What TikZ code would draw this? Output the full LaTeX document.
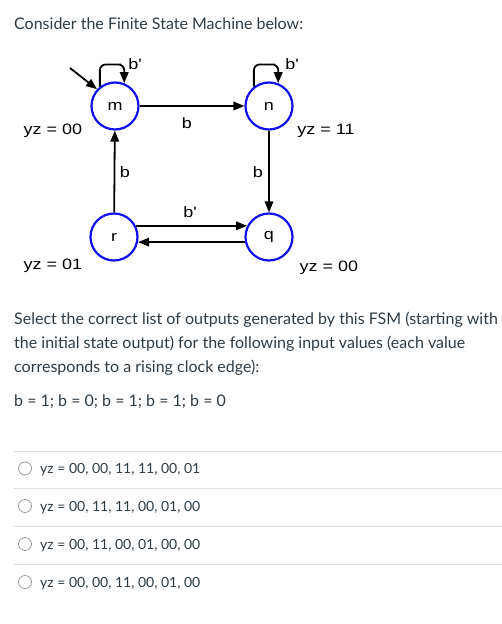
\documentclass[tikz,border=0pt]{standalone}
\usepackage{fontspec}
\setmainfont{Lato}
\newfontfamily\diagfont[FakeStretch=1.2]{Liberation Sans}
\usetikzlibrary{arrows.meta}
\definecolor{txt}{HTML}{2D3B45}
\definecolor{sep}{HTML}{DDDDDD}
\definecolor{stblue}{HTML}{1010F0}
\tikzset{
  state/.style={circle,draw=stblue,line width=2.2pt,minimum size=47pt,inner sep=0pt,font=\diagfont\fontsize{15}{16}\selectfont},
  lbl/.style={font=\diagfont\fontsize{15}{16}\selectfont,inner sep=0pt},
  edge/.style={line width=1.8pt,-{Triangle[length=11pt,width=8.5pt]}},
  body/.style={font=\fontsize{16}{18}\selectfont,text=txt,anchor=base west,inner sep=0pt},
  opt/.style={font=\fontsize{14}{16}\selectfont,text=txt,anchor=base west,inner sep=0pt},
  radio/.style={circle,draw=gray!80,line width=0.8pt,minimum size=13pt,inner sep=0pt},
  sepline/.style={draw=sep,line width=1pt}
}
\begin{document}
\begin{tikzpicture}[x=1pt,y=-1pt]
\useasboundingbox (0,0) rectangle (502,624);
% title
\node[body] (title) at (14,29) {Consider the Finite State Machine below:};
% states
\node[state] (m) at (115,106) {m};
\node[state] (n) at (269,106) {n};
\node[state] (r) at (114,237) {r};
\node[state] (q) at (269,237) {q};
% initial arrow
\coordinate (init) at (70,68);
\draw[edge] (init) -- (m.137);
% self loops
\draw[edge,rounded corners=6pt] (m.128) |- ([yshift=17pt]m.north) -| (m.68);
\node[lbl] (lm) at (135,64) {b'};
\draw[edge,rounded corners=6pt] (n.128) |- ([yshift=17pt]n.north) -| (n.68);
\node[lbl] (ln) at (292,64) {b'};
% transitions
\draw[edge] (m) -- (n);
\node[lbl] (lmn) at (187,123) {b};
\draw[edge] (n) -- (q);
\node[lbl] (lnq) at (258,172) {b};
\draw[edge] (r) -- (m);
\node[lbl] (lrm) at (125,172) {b};
\draw[edge] (r.27) -- (q.153);
\node[lbl] (lrq) at (190,212) {b'};
\draw[edge] (q.-168) -- (r.-12);
% outputs
\node[lbl] (om) at (53,131) {yz = 00};
\node[lbl] (or) at (53,266) {yz = 01};
\node[lbl] (on) at (326,131) {yz = 11};
\node[lbl] (oq) at (329,268) {yz = 00};
% question
\node[body] (q1) at (14,324) {Select the correct list of outputs generated by this FSM (starting with};
\node[body] (q2) at (14,348) {the initial state output) for the following input values (each value};
\node[body] (q3) at (14,372) {corresponds to a rising clock edge):};
\node[body] (q4) at (14,406) {b = 1; b = 0; b = 1; b = 1; b = 0};
% options
\draw[sepline] (14,451) -- (502,451);
\draw[sepline] (14,488.5) -- (502,488.5);
\draw[sepline] (14,526) -- (502,526);
\draw[sepline] (14,564) -- (502,564);
\node[radio] (r1) at (25,468.5) {};
\node[radio] (r2) at (25,506) {};
\node[radio] (r3) at (25,544) {};
\node[radio] (r4) at (25,582) {};
\node[opt] (o1) at (40,473) {yz = 00, 00, 11, 11, 00, 01};
\node[opt] (o2) at (40,511) {yz = 00, 11, 11, 00, 01, 00};
\node[opt] (o3) at (40,549) {yz = 00, 11, 00, 01, 00, 00};
\node[opt] (o4) at (40,587) {yz = 00, 00, 11, 00, 01, 00};
\end{tikzpicture}
\end{document}
